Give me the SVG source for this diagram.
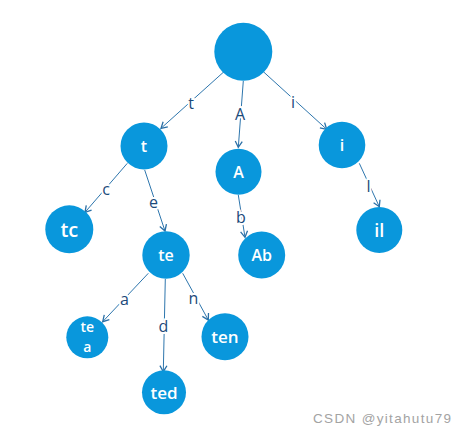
<svg xmlns="http://www.w3.org/2000/svg" width="467" height="435" viewBox="0 0 467 435">
<defs>
<marker id="arr" viewBox="-7 -5 9 10" refX="0" refY="0" markerWidth="9" markerHeight="10" markerUnits="userSpaceOnUse" orient="auto">
<path d="M-6,-3.5 L0,0 L-6,3.5" fill="none" stroke="#2a6fa6" stroke-width="1.3"/>
</marker>
</defs>
<style>
.n{fill:#0997dc}
.nt{fill:#ffffff;font-family:"Open Sans","Noto Sans",sans-serif;font-weight:600;text-anchor:middle}
.e{stroke:#2e76ad;stroke-width:1;fill:none;marker-end:url(#arr)}
.el{fill:#1b4a7a;font-family:"Open Sans","Noto Sans",sans-serif;font-size:16px;text-anchor:middle;stroke:#ffffff;stroke-width:4;paint-order:stroke;stroke-linejoin:round}
</style>
<rect width="467" height="435" fill="#ffffff"/>
<g id="connectors">
<line class="e" x1="223.3" y1="72.3" x2="161" y2="128.3"/>
<line class="e" x1="243.3" y1="81" x2="238.3" y2="147.3"/>
<line class="e" x1="264" y1="72.3" x2="326.7" y2="129.3"/>
<line class="e" x1="127.3" y1="163.3" x2="85" y2="212.3"/>
<line class="e" x1="144.7" y1="170" x2="165" y2="231"/>
<line class="e" x1="238.3" y1="195" x2="245" y2="237.3"/>
<line class="e" x1="359.3" y1="163.3" x2="379.3" y2="206.7"/>
<line class="e" x1="148.3" y1="273.3" x2="102.7" y2="321.7"/>
<line class="e" x1="165.3" y1="279" x2="163.3" y2="371.7"/>
<line class="e" x1="182.7" y1="273.3" x2="208.3" y2="320"/>
<text class="el" x="191" y="108.5">t</text>
<text class="el" x="240" y="119.5">A</text>
<text class="el" x="293" y="107.5">i</text>
<text class="el" x="106" y="194.5">c</text>
<text class="el" x="153.5" y="207.5">e</text>
<text class="el" x="241" y="222.5">b</text>
<text class="el" x="368.5" y="191.5">l</text>
<text class="el" x="124.5" y="304.5">a</text>
<text class="el" x="163.5" y="331.5">d</text>
<text class="el" x="193.5" y="303.5">n</text>
</g>
<g id="node-root"><circle class="n" cx="243.3" cy="51.7" r="29"/></g>
<g id="node-t"><circle class="n" cx="144" cy="146" r="23.5"/><text class="nt" x="144" y="152" font-size="16">t</text></g>
<g id="node-A"><circle class="n" cx="238.5" cy="171.7" r="23"/><text class="nt" x="238.5" y="177.5" font-size="16">A</text></g>
<g id="node-i"><circle class="n" cx="342" cy="145" r="23.3"/><text class="nt" x="342" y="151" font-size="16">i</text></g>
<g id="node-tc"><circle class="n" cx="69.3" cy="229.3" r="24"/><text class="nt" x="69.3" y="236.5" font-size="20">tc</text></g>
<g id="node-te"><circle class="n" cx="166" cy="255" r="23.7"/><text class="nt" x="166" y="261" font-size="16">te</text></g>
<g id="node-Ab"><circle class="n" cx="261.7" cy="255" r="23.5"/><text class="nt" x="261.7" y="261" font-size="16">Ab</text></g>
<g id="node-il"><circle class="n" cx="379.3" cy="230" r="23"/><text class="nt" x="379.3" y="236.5" font-size="18">il</text></g>
<g id="node-tea"><circle class="n" cx="87.3" cy="337.3" r="21"/><text class="nt" x="87.3" y="332" font-size="14">te</text><text class="nt" x="87.3" y="351.5" font-size="14">a</text></g>
<g id="node-ted"><circle class="n" cx="164" cy="392.3" r="22"/><text class="nt" x="164" y="398.5" font-size="17">ted</text></g>
<g id="node-ten"><circle class="n" cx="225" cy="336.7" r="23.5"/><text class="nt" x="225" y="343" font-size="17">ten</text></g>
<text x="313" y="423.3" font-family="Liberation Sans,Arial,sans-serif" font-size="13.5" fill="#a3a3a3" textLength="138" lengthAdjust="spacing">CSDN @yitahutu79</text>
</svg>
